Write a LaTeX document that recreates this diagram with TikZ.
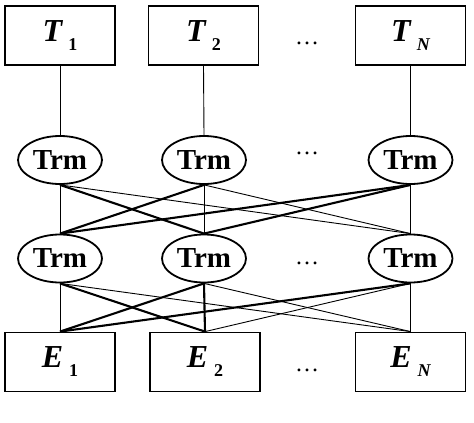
\documentclass[tikz,border=0pt]{standalone}
\usepackage{fontspec}
\setmainfont{Liberation Serif}
\usetikzlibrary{shapes.geometric}
\newcommand\boxlbl[2]{{\fontsize{32}{32}\selectfont\bfseries\itshape #1}\hspace{6pt}\raisebox{-9pt}{\fontsize{18}{18}\selectfont\bfseries #2}\hspace{8pt}}
\tikzset{
  blk/.style={draw, line width=1.8pt, minimum width=110pt, minimum height=59pt, inner sep=0pt},
  trm/.style={draw, ellipse, line width=1.8pt, minimum width=84pt, minimum height=48pt, inner sep=0pt,
    font=\fontsize{29}{29}\selectfont\bfseries},
  dotsl/.style={font=\fontsize{24}{24}\selectfont, inner sep=0pt},
  thin/.style={line width=0.9pt},
  thk/.style={line width=2.1pt},
}
\begin{document}
\begin{tikzpicture}[x=1pt,y=-1pt]
\useasboundingbox (0,0) rectangle (474,423);
% top boxes
\node[blk] (T1) at (60,35.5) {\boxlbl{T}{1}};
\node[blk] (T2) at (203.5,35.5) {\boxlbl{T}{2}};
\node[blk] (TN) at (410.5,35.5) {\boxlbl{T}{\itshape N}};
% row 1
\node[trm] (A1) at (60,160) {Trm};
\node[trm] (A2) at (204,160) {Trm};
\node[trm] (AN) at (410.5,160) {Trm};
% row 2
\node[trm] (B1) at (60,258.5) {Trm};
\node[trm] (B2) at (204,258.5) {Trm};
\node[trm] (BN) at (410.5,258.5) {Trm};
% bottom boxes
\node[blk] (E1) at (60,362) {\boxlbl{E}{1}};
\node[blk] (E2) at (205,362) {\boxlbl{E}{2}};
\node[blk] (EN) at (410.5,362) {\boxlbl{E}{\itshape N}};
% dots
\node[dotsl] (d1) at (307,43) {…};
\node[dotsl] (d2) at (307,153) {…};
\node[dotsl] (d3) at (307,263) {…};
\node[dotsl] (d4) at (307,370) {…};
% T to Trm
\draw[thin] (T1.south) -- (A1.north);
\draw[thin] (T2.south) -- (A2.north);
\draw[thin] (TN.south) -- (AN.north);
% row1 to row2
\draw[thin] (A1.south) -- (B1.north);
\draw[thk]  (A1.south) -- (B2.north);
\draw[thin] (A1.south) -- (BN.north);
\draw[thk]  (A2.south) -- (B1.north);
\draw[thin] (A2.south) -- (B2.north);
\draw[thin] (A2.south) -- (BN.north);
\draw[thk]  (AN.south) -- (B1.north);
\draw[thk]  (AN.south) -- (B2.north);
\draw[thin] (AN.south) -- (BN.north);
% row2 to E
\draw[thin] (B1.south) -- (E1.north);
\draw[thk]  (B1.south) -- (E2.north);
\draw[thin] (B1.south) -- (EN.north);
\draw[thk]  (B2.south) -- (E1.north);
\draw[thk]  (B2.south) -- (E2.north);
\draw[thin] (B2.south) -- (EN.north);
\draw[thk]  (BN.south) -- (E1.north);
\draw[thin] (BN.south) -- (E2.north);
\draw[thin] (BN.south) -- (EN.north);
\end{tikzpicture}
\end{document}
